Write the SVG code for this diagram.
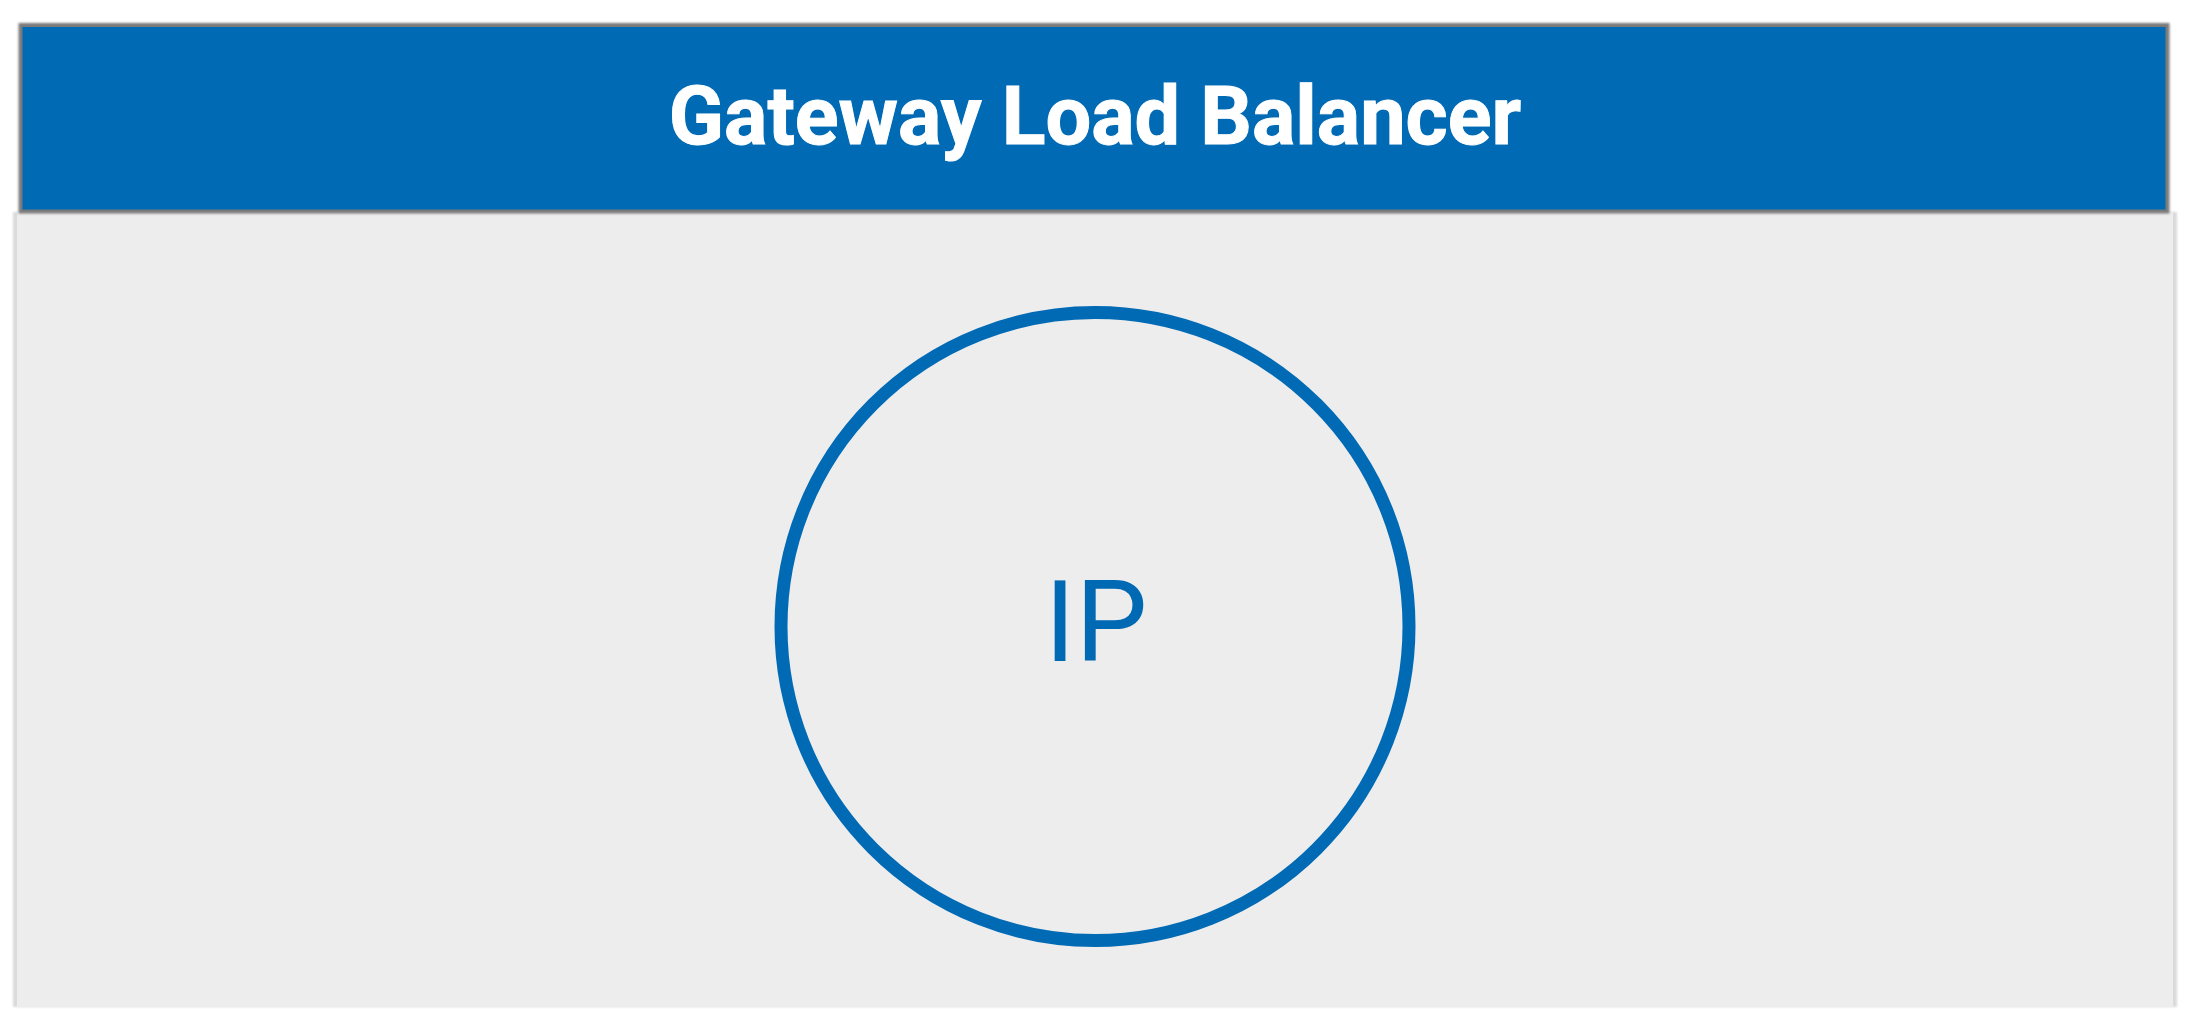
<svg xmlns="http://www.w3.org/2000/svg" width="2188" height="1020" viewBox="0 0 2188 1020">
  <defs>
    <filter id="soft" x="-2%" y="-5%" width="104%" height="110%">
      <feGaussianBlur stdDeviation="1.2"/>
    </filter>
    <style>
      .title { font-family: Roboto, "Liberation Sans", sans-serif; font-weight: 700; font-size: 81px; fill: #ffffff; stroke: #ffffff; stroke-width: 1; }
      .ip { font-family: Roboto, "Liberation Sans", sans-serif; font-weight: 400; font-size: 114px; fill: #0069b4; }
    </style>
  </defs>
  <rect width="2188" height="1020" fill="#ffffff"/>
  <g id="gateway-load-balancer">
    <rect x="13" y="212" width="2164" height="795" fill="#dadada" filter="url(#soft)"/>
    <rect x="17" y="212" width="2156" height="795" fill="#ededed"/>
    <rect x="20.5" y="25" width="2147" height="186.5" fill="#7a7a7a" stroke="#7a7a7a" stroke-width="4" filter="url(#soft)"/>
    <rect x="22.5" y="27" width="2143" height="182.5" fill="#006ab5"/>
    <text class="title" x="1095" y="144" text-anchor="middle">Gateway Load Balancer</text>
  </g>
  <g id="ip-node">
    <circle cx="1095" cy="626.5" r="314" fill="none" stroke="#006ab5" stroke-width="13"/>
    <text class="ip" x="1096" y="661" text-anchor="middle">IP</text>
  </g>
  <g id="connectors"/>
</svg>
